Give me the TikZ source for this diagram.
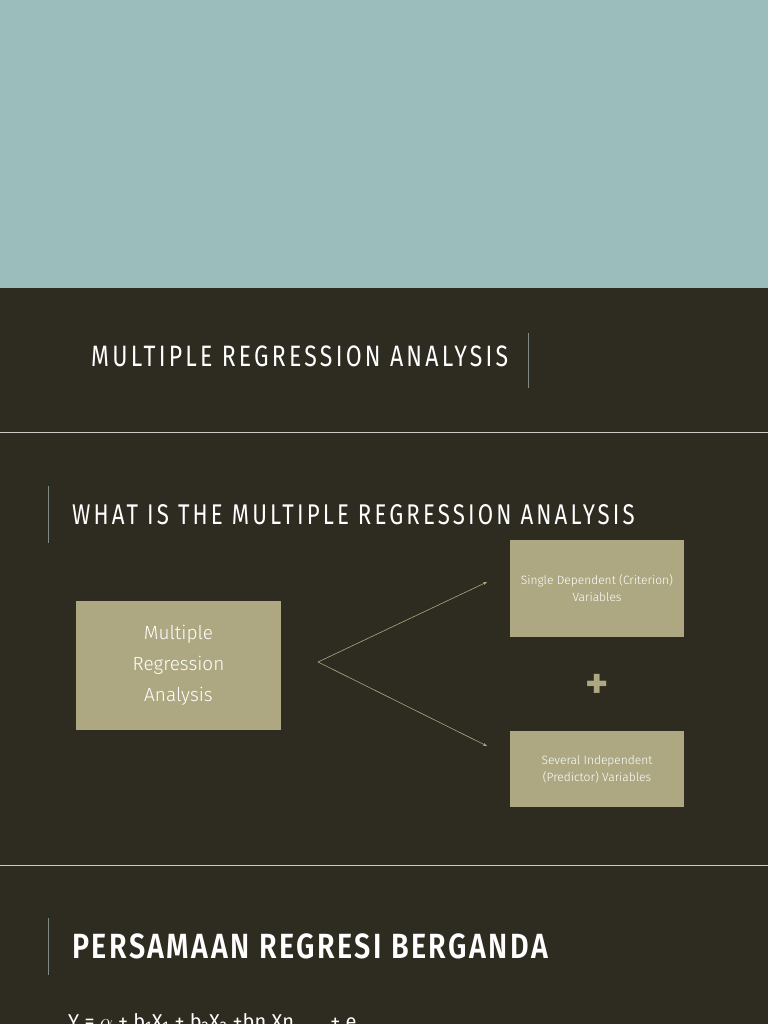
\documentclass[tikz,border=0pt]{standalone}
\usepackage{fontspec}
\usetikzlibrary{arrows.meta}
\setmainfont{Fira Sans}
\newfontfamily\titlefont[FakeStretch=0.78,LetterSpace=11]{Fira Sans}
\newfontfamily\titlefontb[FakeStretch=0.82,LetterSpace=7]{Fira Sans SemiBold}
\newfontfamily\bodyfont{Fira Sans Light}
\definecolor{topc}{HTML}{9BBDBC}
\definecolor{darkc}{HTML}{2E2B20}
\definecolor{boxc}{HTML}{ADA882}
\definecolor{barc}{HTML}{7F8C86}
\begin{document}
\begin{tikzpicture}[x=1pt,y=-1pt,
  box/.style={fill=boxc,draw=none,text=white,align=center,font=\bodyfont},
  bar/.style={draw=barc,line width=1pt},
  arr/.style={draw=boxc,line width=0.6pt,-{Stealth[length=4pt,width=3pt]}}]
\useasboundingbox (0,0) rectangle (768,1024);
\clip (0,0) rectangle (768,1024);
\fill[topc] (0,0) rectangle (768,288);
\fill[darkc] (0,288) rectangle (768,1024);
\draw[white!75!darkc,line width=0.8pt] (0,432.5) -- (768,432.5);
\draw[white!75!darkc,line width=0.8pt] (0,865.5) -- (768,865.5);
% slide 1
\node[anchor=west,text=white,font=\titlefont\fontsize{29.5}{34}\selectfont,inner sep=0] (t1) at (91,356) {MULTIPLE REGRESSION ANALYSIS};
\draw[bar] (528,333) -- (528,388);
% slide 2
\draw[bar] (48,486) -- (48,543);
\node[anchor=west,text=white,font=\titlefont\fontsize{28.5}{34}\selectfont,inner sep=0] (t2) at (72,515) {WHAT IS THE MULTIPLE REGRESSION ANALYSIS};
\node[box,minimum width=205pt,minimum height=129pt,font=\bodyfont\fontsize{19}{31}\selectfont] (mra) at (178.5,665.5) {Multiple\\Regression\\Analysis};
\node[box,minimum width=174pt,minimum height=97pt,font=\bodyfont\fontsize{12}{17}\selectfont] (dep) at (597,588.5) {Single Dependent (Criterion)\\Variables};
\node[box,minimum width=174pt,minimum height=76pt,font=\bodyfont\fontsize{12}{17}\selectfont] (ind) at (597,769) {Several Independent\\(Predictor) Variables};
\coordinate (split) at (318,662);
\coordinate (e1) at (487,582);
\coordinate (e2) at (487,746);
\draw[arr] (split) -- (e1);
\draw[arr] (split) -- (e2);
\node[text=boxc,font=\fontsize{44}{44}\selectfont\bfseries,inner sep=0] (plus) at (597,686) {+};
% slide 3
\draw[bar] (48,918) -- (48,975);
\node[anchor=west,text=white,font=\titlefontb\fontsize{35}{40}\selectfont,inner sep=0] (t3) at (72,946) {PERSAMAAN REGRESI BERGANDA};
\node[anchor=north west,text=white,font=\fontsize{20}{24}\selectfont,inner sep=0] (eq) at (68,1013) {Y = $\alpha$ + b\textsubscript{1}X\textsubscript{1} + b\textsubscript{2}X\textsubscript{2} +bn Xn ..... + e};
\end{tikzpicture}
\end{document}
